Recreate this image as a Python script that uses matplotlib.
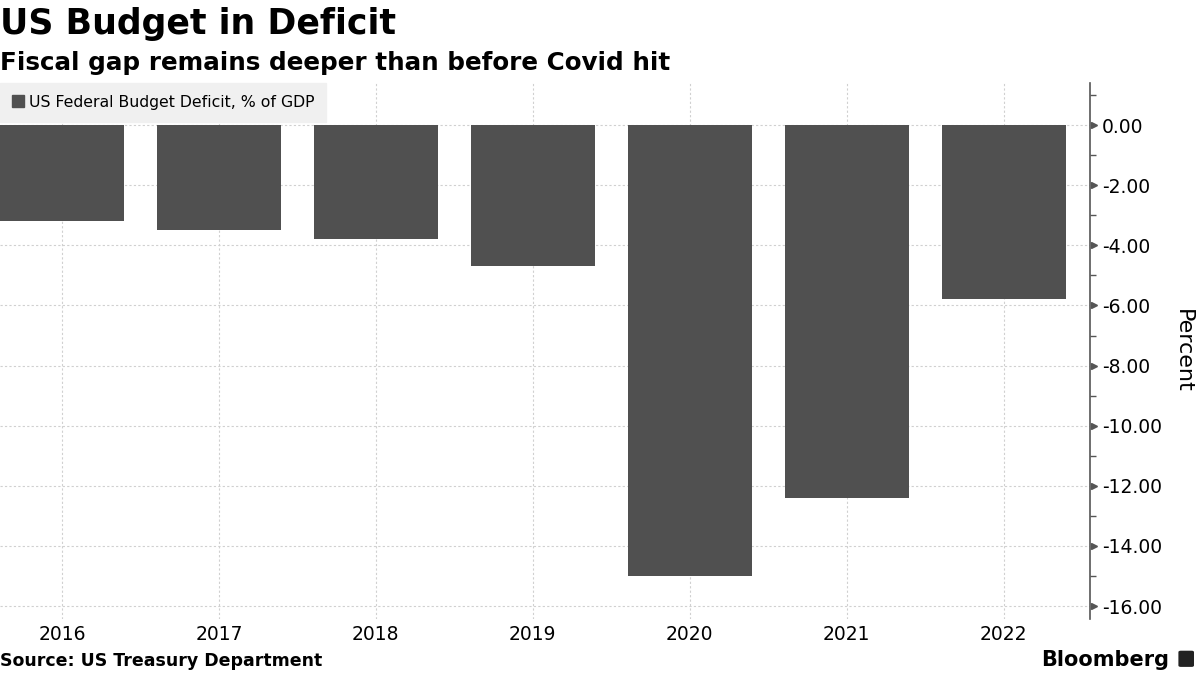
import matplotlib
matplotlib.use("Agg")
import matplotlib.pyplot as plt
import matplotlib.transforms as mtransforms
from matplotlib.ticker import MultipleLocator, FormatStrFormatter
from matplotlib.patches import Patch, FancyBboxPatch

years = ["2016", "2017", "2018", "2019", "2020", "2021", "2022"]
deficit = [-3.2, -3.5, -3.8, -4.7, -15.0, -12.4, -5.8]
yticks = [0, -2, -4, -6, -8, -10, -12, -14, -16]

BAR = "#505050"
GRID = "#d0d0d0"
AXIS = "#555555"

plt.rcParams["font.family"] = ["DejaVu Sans"]

fig = plt.figure(figsize=(12, 6.75), dpi=100)
ax = fig.add_axes([0.0, 0.083, 0.908, 0.794])

x = list(range(len(years)))
ax.bar(x, deficit, width=0.79, color=BAR, zorder=2)

ax.set_xlim(-0.395, len(years) - 1 + 0.548)
ax.set_ylim(-16.43, 1.4)
ax.set_xticks(x)
ax.set_xticklabels(years)

ax.yaxis.tick_right()
ax.yaxis.set_minor_locator(MultipleLocator(1))
ax.yaxis.set_major_formatter(FormatStrFormatter("%.2f"))
ax.set_yticks(yticks)

ax.tick_params(axis="x", length=0, labelsize=13.5, pad=4, colors="black")
ax.tick_params(axis="y", which="major", direction="out", length=7, width=0,
               labelsize=13.5, pad=2)
ax.tick_params(axis="y", which="minor", direction="out", length=4, width=1,
               color=AXIS)

# arrow-shaped major ticks sitting just right of the axis line
trans = mtransforms.blended_transform_factory(ax.transAxes, ax.transData)
trans = trans + mtransforms.ScaledTranslation(3 / 72, 0, fig.dpi_scale_trans)
ax.plot([1.0] * len(yticks), yticks, linestyle="none", marker=">", markersize=5,
        color=AXIS, transform=trans, clip_on=False, zorder=3)

for side in ["left", "top", "bottom"]:
    ax.spines[side].set_visible(False)
ax.spines["right"].set_color(AXIS)
ax.spines["right"].set_linewidth(1.2)

ax.grid(True, which="major", color=GRID, linestyle=(0, (2, 2)), linewidth=0.8, zorder=0)
ax.set_axisbelow(True)

ax.yaxis.set_label_position("right")
ax.set_ylabel("Percent", rotation=270, fontsize=16, labelpad=22)

leg = ax.legend(handles=[Patch(color=BAR, label="US Federal Budget Deficit, % of GDP")],
                loc="upper left", bbox_to_anchor=(0.0, 1.0), frameon=True, fancybox=False,
                fontsize=11.3, handlelength=0.8, handleheight=0.8, handletextpad=0.3,
                borderpad=0.75, borderaxespad=0.0)
leg.get_frame().set_facecolor("#f0f0f0")
leg.get_frame().set_edgecolor("#f0f0f0")
leg.get_frame().set_alpha(1)

fig.text(0.0, 0.99, "US Budget in Deficit", fontsize=25, fontweight="bold",
         ha="left", va="top")
fig.text(0.0, 0.925, "Fiscal gap remains deeper than before Covid hit", fontsize=17.7,
         fontweight="bold", ha="left", va="top")
fig.text(0.0, 0.008, "Source: US Treasury Department", fontsize=12.5, fontweight="bold",
         ha="left", va="bottom")
fig.text(0.974, 0.008, "Bloomberg", fontsize=15, fontweight="bold",
         ha="right", va="bottom")
# small logo box next to the wordmark
fig.patches.append(FancyBboxPatch((0.983, 0.013), 0.011, 0.022,
                                  boxstyle="round,pad=0.001,rounding_size=0.002",
                                  transform=fig.transFigure, facecolor="#222222",
                                  edgecolor="none"))

fig.savefig("out.png", dpi=100)
